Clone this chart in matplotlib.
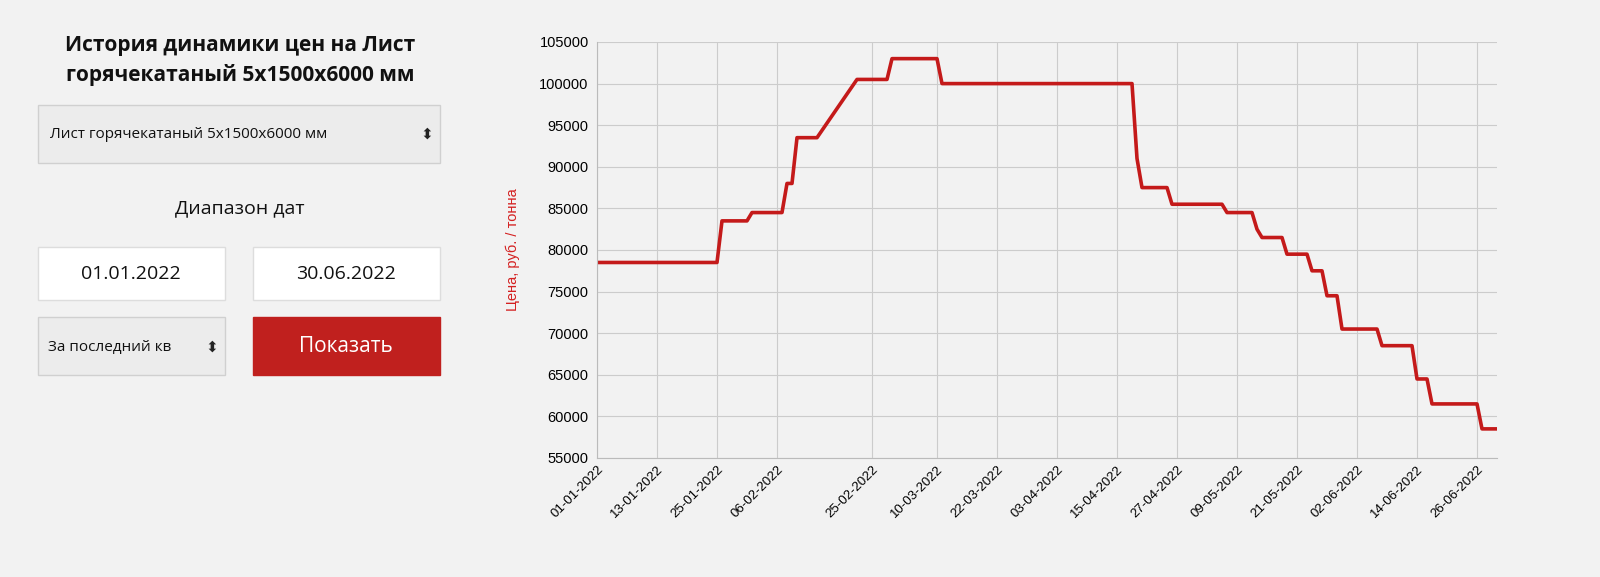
import matplotlib
matplotlib.use("Agg")
import matplotlib.pyplot as plt
from matplotlib.patches import Rectangle
import datetime as dt

# day offsets from 2022-01-01 and prices
days   = [0, 24, 25, 30, 31, 37, 38, 39, 40, 44, 52, 58, 59, 68, 69, 107, 108, 109, 114, 115,
          125, 126, 131, 132, 133, 137, 138, 142, 143, 145, 146, 148, 149, 156, 157, 163, 164,
          166, 167, 176, 177, 180]
prices = [78500, 78500, 83500, 83500, 84500, 84500, 88000, 88000, 93500, 93500, 100500, 100500,
          103000, 103000, 100000, 100000, 91000, 87500, 87500, 85500, 85500, 84500, 84500, 82500,
          81500, 81500, 79500, 79500, 77500, 77500, 74500, 74500, 70500, 70500, 68500, 68500,
          64500, 64500, 61500, 61500, 58500, 58500]
tick_labels = ["01-01-2022", "13-01-2022", "25-01-2022", "06-02-2022", "25-02-2022", "10-03-2022",
               "22-03-2022", "03-04-2022", "15-04-2022", "27-04-2022", "09-05-2022", "21-05-2022",
               "02-06-2022", "14-06-2022", "26-06-2022"]
yticks = list(range(55000, 105001, 5000))

start = dt.datetime(2022, 1, 1)
dates = [start + dt.timedelta(days=d) for d in days]
tick_dates = [dt.datetime.strptime(t, "%d-%m-%Y") for t in tick_labels]

W, H = 1600, 577
fig = plt.figure(figsize=(16, 5.77), dpi=100, facecolor="#f2f2f2")
font = "Open Sans"
tfont = "Liberation Sans"

ui = fig.add_axes([0, 0, 1, 1])
ui.set_xlim(0, W); ui.set_ylim(H, 0); ui.axis("off")
ui.text(240, 45, "История динамики цен на Лист", ha="center", va="center", fontsize=15, fontweight="bold", family=font, color="#111")
ui.text(240, 75, "горячекатаный 5х1500х6000 мм", ha="center", va="center", fontsize=15, fontweight="bold", family=font, color="#111")
def box(x0, y0, x1, y1, fc, ec="#dddddd"):
    ui.add_patch(Rectangle((x0, y0), x1 - x0, y1 - y0, facecolor=fc, edgecolor=ec, lw=1))
box(38, 105, 440, 163, "#ececec", "#d0d0d0")
ui.text(50, 134, "Лист горячекатаный 5х1500х6000 мм", va="center", fontsize=11, family=font, color="#111")
ui.text(427, 134, "⬍", va="center", ha="center", fontsize=11, color="#222")
ui.text(240, 208, "Диапазон дат", ha="center", va="center", fontsize=14, family=font, color="#111")
box(38, 247, 225, 300, "white")
box(253, 247, 440, 300, "white")
ui.text(131, 274, "01.01.2022", ha="center", va="center", fontsize=14, family=font, color="#111")
ui.text(346, 274, "30.06.2022", ha="center", va="center", fontsize=14, family=font, color="#111")
box(38, 317, 225, 375, "#ececec", "#d0d0d0")
ui.text(48, 347, "За последний кв", va="center", fontsize=11, family=font, color="#111")
ui.text(212, 347, "⬍", va="center", ha="center", fontsize=11, color="#222")
box(253, 317, 440, 375, "#c0201e", "#c0201e")
ui.text(346, 347, "Показать", ha="center", va="center", fontsize=15, family=font, color="white")

ax = fig.add_axes([597 / W, 1 - 458 / H, 900 / W, 416 / H])
ax.set_facecolor("#f2f2f2")
ax.plot(dates, prices, color="#c41a1a", lw=2.6, solid_joinstyle="round")
ax.set_xlim(start, start + dt.timedelta(days=180))
ax.set_ylim(55000, 105000)
ax.set_yticks(yticks)
ax.set_yticklabels([str(v) for v in yticks], family=tfont, fontsize=10.5)
ax.set_xticks(tick_dates)
ax.set_xticklabels(tick_labels, rotation=45, ha="right", rotation_mode="anchor", fontsize=9.5, family=tfont)
ax.tick_params(axis="y", length=0, pad=6)
ax.tick_params(axis="x", length=0, pad=4)
ax.grid(True, color="#cccccc", lw=0.8)
for s in ["top", "right"]:
    ax.spines[s].set_visible(False)
ax.spines["left"].set_color("#bbbbbb")
ax.spines["bottom"].set_color("#bbbbbb")
ax.set_ylabel("Цена, руб. / тонна", color="#d42020", fontsize=10.5, labelpad=14, family=tfont)
fig.savefig("out.png", dpi=100, facecolor=fig.get_facecolor())
